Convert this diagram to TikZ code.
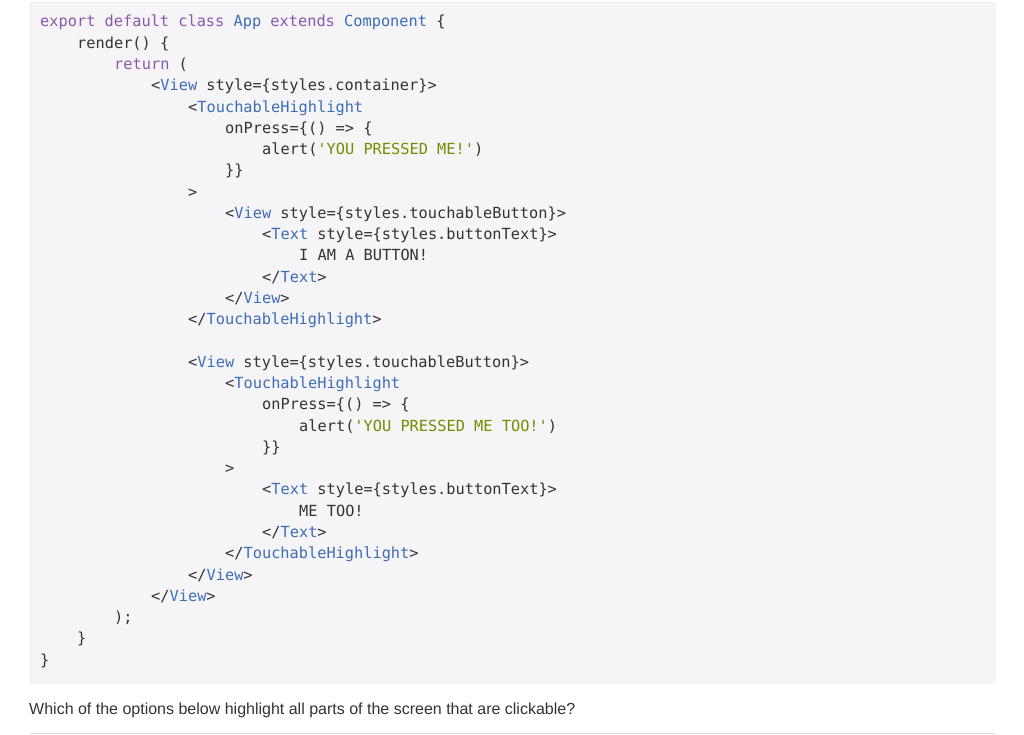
\documentclass[tikz,border=0pt]{standalone}
\usepackage{fontspec}
\newfontfamily\codefont{DejaVu Sans Mono}
\newfontfamily\uifont{Liberation Sans}
\definecolor{kw}{HTML}{8959A8}
\definecolor{tg}{HTML}{3E6DB5}
\definecolor{st}{HTML}{6F8F00}
\definecolor{tx}{HTML}{333333}
\definecolor{bg}{HTML}{F5F5F7}
\definecolor{bd}{HTML}{DCDCDC}
\newcommand{\K}[1]{\textcolor{kw}{#1}}
\newcommand{\T}[1]{\textcolor{tg}{#1}}
\newcommand{\Sg}[1]{\textcolor{st}{#1}}
\begin{document}
\begin{tikzpicture}[x=1pt,y=-1pt,
  ln/.style={anchor=base west,inner sep=0pt,text=tx,font=\codefont\fontsize{15.3}{18}\selectfont}]
\useasboundingbox (0,0) rectangle (1024,735);
\fill[white] (0,0) rectangle (1024,735);
\draw[bd,fill=bg,rounded corners=2pt] (30,2.5) rectangle (995,683);
\def\lh{21.27}
\newcommand{\codeline}[3]{\node[ln] (l#1) at ({40+37*#2},{27+(#1-1)*\lh}) {#3};}
\draw[bd] (30,733.5) -- (995,733.5);
\codeline{1}{0}{\K{export default class} \T{App} \K{extends} \T{Component} \{}
\codeline{2}{1}{render() \{}
\codeline{3}{2}{\K{return} (}
\codeline{4}{3}{<\T{View} style=\{styles.container\}>}
\codeline{5}{4}{<\T{TouchableHighlight}}
\codeline{6}{5}{onPress=\{() => \{}
\codeline{7}{6}{alert(\Sg{'YOU PRESSED ME!'})}
\codeline{8}{5}{\}\}}
\codeline{9}{4}{>}
\codeline{10}{5}{<\T{View} style=\{styles.touchableButton\}>}
\codeline{11}{6}{<\T{Text} style=\{styles.buttonText\}>}
\codeline{12}{7}{I AM A BUTTON!}
\codeline{13}{6}{</\T{Text}>}
\codeline{14}{5}{</\T{View}>}
\codeline{15}{4}{</\T{TouchableHighlight}>}
\codeline{17}{4}{<\T{View} style=\{styles.touchableButton\}>}
\codeline{18}{5}{<\T{TouchableHighlight}}
\codeline{19}{6}{onPress=\{() => \{}
\codeline{20}{7}{alert(\Sg{'YOU PRESSED ME TOO!'})}
\codeline{21}{6}{\}\}}
\codeline{22}{5}{>}
\codeline{23}{6}{<\T{Text} style=\{styles.buttonText\}>}
\codeline{24}{7}{ME TOO!}
\codeline{25}{6}{</\T{Text}>}
\codeline{26}{5}{</\T{TouchableHighlight}>}
\codeline{27}{4}{</\T{View}>}
\codeline{28}{3}{</\T{View}>}
\codeline{29}{2}{);}
\codeline{30}{1}{\}}
\codeline{31}{0}{\}}
\node[anchor=base west,inner sep=0pt,text=tx,font=\uifont\fontsize{16}{19}\selectfont] (q) at (29,714) {Which of the options below highlight all parts of the screen that are clickable?};
\end{tikzpicture}
\end{document}
